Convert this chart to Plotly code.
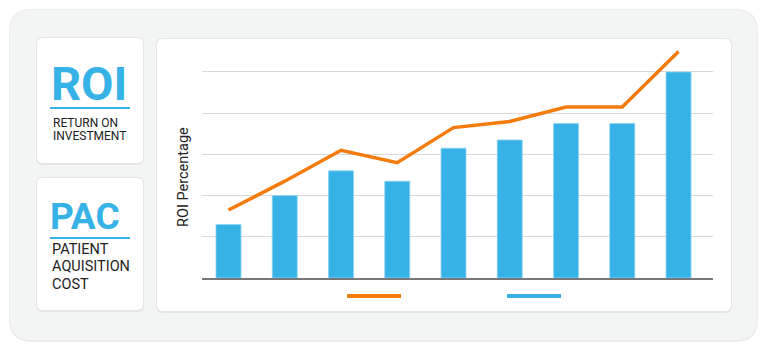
import plotly.graph_objects as go

# ---- data ----
periods = ["P1", "P2", "P3", "P4", "P5", "P6", "P7", "P8", "P9"]
pac_values = [26, 40, 52, 47, 63, 67, 75, 75, 100]
roi_values = [33, 47, 62, 56, 73, 76, 83, 83, 110]
grid_ticks = [20, 40, 60, 80, 100]
axis_title = "ROI Percentage"
card_titles = ["ROI", "PAC"]
roi_sub = ["RETURN ON", "INVESTMENT"]
pac_sub = ["PATIENT", "AQUISITION", "COST"]

# ---- layout geometry (pixels) ----
W, H = 768, 351
L, R, T, B = 202, 713, 45, 278

BLUE = "#36b2e6"
ORANGE = "#f47b0c"
TXT = "#222222"


def px(x):
    return (x - L) / (R - L)


def py(y):
    return (B - y) / (B - T)


def rrect(x0, y0, x1, y1, r):
    pts = [
        ("M", [(x0 + r, y0)]),
        ("L", [(x1 - r, y0)]),
        ("Q", [(x1, y0), (x1, y0 + r)]),
        ("L", [(x1, y1 - r)]),
        ("Q", [(x1, y1), (x1 - r, y1)]),
        ("L", [(x0 + r, y1)]),
        ("Q", [(x0, y1), (x0, y1 - r)]),
        ("L", [(x0, y0 + r)]),
        ("Q", [(x0, y0), (x0 + r, y0)]),
    ]
    s = ""
    for cmd, ps in pts:
        s += cmd + " ".join(f"{px(a):.5f},{py(b):.5f}" for a, b in ps) + " "
    return s + "Z"


shapes = []


def card(x0, y0, x1, y1, r, fill, shadow):
    shapes.append(dict(type="path", xref="paper", yref="paper", layer="below",
                       path=rrect(x0 - 1, y0 - 1, x1 + 1, y1 + 2, r + 1),
                       fillcolor=shadow, line=dict(width=0)))
    shapes.append(dict(type="path", xref="paper", yref="paper", layer="below",
                       path=rrect(x0, y0, x1, y1, r),
                       fillcolor=fill, line=dict(width=0)))


card(10, 10, 757, 340, 22, "#f3f4f4", "#eaebeb")
card(37, 38, 143, 163, 6, "#ffffff", "#e4e5e5")
card(37, 178, 143, 310, 6, "#ffffff", "#e4e5e5")
card(157, 39, 731, 311, 6, "#ffffff", "#e4e5e5")

# underlines in cards
for yy in (108, 238):
    shapes.append(dict(type="line", xref="paper", yref="paper",
                       x0=px(50), x1=px(130), y0=py(yy), y1=py(yy),
                       line=dict(color=BLUE, width=2)))

# legend swatches
shapes.append(dict(type="line", xref="paper", yref="paper",
                   x0=px(347), x1=px(401), y0=py(296), y1=py(296),
                   line=dict(color=ORANGE, width=4)))
shapes.append(dict(type="line", xref="paper", yref="paper",
                   x0=px(507), x1=px(561), y0=py(296), y1=py(296),
                   line=dict(color=BLUE, width=4)))

annotations = []


def text(s, x, y, size, color=TXT, weight=400, angle=0, xanchor="left"):
    annotations.append(dict(text=s, x=px(x), y=py(y), xref="paper", yref="paper",
                            xanchor=xanchor, yanchor="middle", showarrow=False,
                            textangle=angle,
                            font=dict(family="Roboto", size=size, color=color, weight=weight)))


text(card_titles[0], 49, 83, 47, BLUE, 700)
text(card_titles[1], 48, 216, 37, BLUE, 700)
for i, s in enumerate(roi_sub):
    text(s, 51, 123 + 13 * i, 12)
for i, s in enumerate(pac_sub):
    text(s, 50, 249 + 17.5 * i, 14.5)
text(axis_title, 183, 177, 14.5, angle=-90, xanchor="center")

fig = go.Figure()
fig.add_trace(go.Bar(x=periods, y=pac_values, name="PAC",
                     marker=dict(color=BLUE, line=dict(color="#8fd4f2", width=0.8))))
fig.add_trace(go.Scatter(x=periods, y=roi_values, name="ROI", mode="lines",
                         line=dict(color=ORANGE, width=3.5)))

fig.update_layout(
    width=W, height=H,
    margin=dict(l=L, r=W - R, t=T, b=H - B, pad=0),
    paper_bgcolor="#ffffff",
    plot_bgcolor="rgba(0,0,0,0)",
    showlegend=False,
    bargap=1 - 25 / 56.25,
    shapes=shapes,
    annotations=annotations,
    xaxis=dict(range=[-0.471, 8.613], showticklabels=False, ticks="",
               showgrid=False, zeroline=False, showline=True,
               linecolor="#777777", linewidth=2, fixedrange=True),
    yaxis=dict(range=[0, 113.1], tickvals=grid_ticks, showticklabels=False,
               ticks="", showgrid=True, gridcolor="#d9d9d9", gridwidth=1.2,
               zeroline=False, showline=False, fixedrange=True),
)

fig.write_html("out.html")
